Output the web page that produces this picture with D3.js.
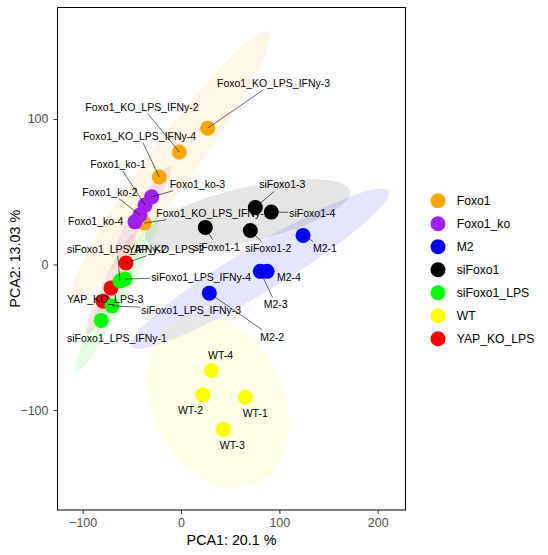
<!DOCTYPE html>
<html>
<head>
<meta charset="utf-8">
<script src="https://cdn.jsdelivr.net/npm/d3@7"></script>
<style>
  body { margin: 0; background: #fff; }
  text { font-family: "Liberation Sans", Arial, sans-serif; }
</style>
</head>
<body>
<div id="chart"></div>
<script>
// groups and their colours (legend order)
const groups = ["Foxo1", "Foxo1_ko", "M2", "siFoxo1", "siFoxo1_LPS", "WT", "YAP_KO_LPS"];
const groupColors = ["#FFA500", "#A020F0", "#0000FF", "#000000", "#00FF00", "#FFFF00", "#FF0000"];

// samples, in drawing order
const sampleNames = [
  "Foxo1_KO_LPS_IFNy-1", "Foxo1_KO_LPS_IFNy-2", "Foxo1_KO_LPS_IFNy-3", "Foxo1_KO_LPS_IFNy-4",
  "Foxo1_ko-1", "Foxo1_ko-2", "Foxo1_ko-3", "Foxo1_ko-4",
  "M2-1", "M2-2", "M2-3", "M2-4",
  "siFoxo1-1", "siFoxo1-2", "siFoxo1-3", "siFoxo1-4",
  "YAP_KO_LPS-1", "YAP_KO_LPS-2", "YAP_KO_LPS-3",
  "siFoxo1_LPS_IFNy-1", "siFoxo1_LPS_IFNy-2", "siFoxo1_LPS_IFNy-3", "siFoxo1_LPS_IFNy-4",
  "WT-1", "WT-2", "WT-3", "WT-4"
];
const sampleGroup = [
  "Foxo1", "Foxo1", "Foxo1", "Foxo1",
  "Foxo1_ko", "Foxo1_ko", "Foxo1_ko", "Foxo1_ko",
  "M2", "M2", "M2", "M2",
  "siFoxo1", "siFoxo1", "siFoxo1", "siFoxo1",
  "YAP_KO_LPS", "YAP_KO_LPS", "YAP_KO_LPS",
  "siFoxo1_LPS", "siFoxo1_LPS", "siFoxo1_LPS", "siFoxo1_LPS",
  "WT", "WT", "WT", "WT"
];
const pc1 = [-37.3, -1.7, 27.2, -22.1, -36.6, -41.7, -29.8, -46.8,
  124.1, 28.8, 80.6, 87.5, 24.7, 70.5, 75.6, 91.8,
  -71.2, -55.9, -79.3, -81.1, -62, -70.2, -57,
  65.4, 22.1, 43, 30.8];
const pc2 = [28.5, 77.3, 93.7, 60.1, 40.8, 34, 46.5, 29.3,
  20, -19.7, -4.7, -4.7, 25.5, 23.4, 39.2, 36,
  -16.2, 1, -25.2, -38.4, -11.4, -28.4, -10,
  -91.3, -89.6, -113.3, -72.8];

// repelled label anchors (left edge, middle), in PCA units; null = label dropped
const labelX = [-25.1, -97.3, 36.6, -99.7, -92.2, -100.4, -11.5, -114.9,
  134.2, 80.6, 84.1, 97.6, 12.9, 65.4, 79.6, 110.1,
  null, -53.9, -115.9, -115.9, -115.9, -40.4, -30.2,
  62.7, -3.1, 39.4, 27.5];
const labelY = [35.3, 108.2, 124.7, 88.2, 69, 49.8, 55.3, 30,
  10.8, -49.9, -27.7, -8.5, 12, 10.8, 54.8, 35.5,
  null, 10.6, -23.8, -50.6, 10.6, -31.3, -8.7,
  -102.6, -100.5, -124.6, -62.7];
// labels that sit next to their point without a leader line
const plainLabels = ["Foxo1_ko-4", "M2-4", "YAP_KO_LPS-3", "siFoxo1_LPS_IFNy-1",
  "WT-1", "WT-2", "WT-3", "WT-4"];

// 95% ellipses per group (legend order): centre and two semi-axis vectors, PCA units
const ellCx = [-10, -38.6, 80.6, 67.6, -66.1, 37.6, -71.2];
const ellCy = [68.9, 37.4, -2.7, 34.3, -21.4, -94.1, -13.5];
const ellAx = [98.8, 28.1, 130.6, 104.1, 41.7, 40.8, 24.6];
const ellAy = [91, 30.3, 53.4, 16.2, 53.3, -55.7, 34.7];
const ellBx = [18.8, 6.9, 12.1, 6.1, 9, -59.6, 7.3];
const ellBy = [-9.3, -2.9, -13.5, -18.1, -3.2, -19.9, -2.4];

const xTicks = [-100, 0, 100, 200];
const yTicks = [-100, 0, 100];

const width = 548, height = 555;
const panel = { left: 57.5, right: 405.5, top: 7.5, bottom: 510 };

const x = d3.scaleLinear().domain([-125.6, 228.3]).range([panel.left, panel.right]);
const y = d3.scaleLinear().domain([-168.7, 176.6]).range([panel.bottom, panel.top]);
const color = d3.scaleOrdinal().domain(groups).range(groupColors);

const svg = d3.select("#chart").append("svg")
  .attr("width", width)
  .attr("height", height);

svg.append("clipPath").attr("id", "panel-clip")
  .append("rect")
  .attr("x", panel.left).attr("y", panel.top)
  .attr("width", panel.right - panel.left)
  .attr("height", panel.bottom - panel.top);

const plot = svg.append("g").attr("clip-path", "url(#panel-clip)");

// ellipses
const ellLine = d3.line().x(d => x(d[0])).y(d => y(d[1])).curve(d3.curveLinearClosed);
groups.forEach((g, i) => {
  const pts = d3.range(0, 100).map(k => {
    const t = 2 * Math.PI * k / 100;
    return [ellCx[i] + ellAx[i] * Math.cos(t) + ellBx[i] * Math.sin(t),
            ellCy[i] + ellAy[i] * Math.cos(t) + ellBy[i] * Math.sin(t)];
  });
  plot.append("path")
    .attr("d", ellLine(pts))
    .attr("fill", color(g))
    .attr("fill-opacity", 0.1)
    .attr("stroke", "none");
});

const samples = sampleNames.map((name, i) => ({
  name, group: sampleGroup[i], pc1: pc1[i], pc2: pc2[i],
  lx: labelX[i], ly: labelY[i]
}));

// points
plot.selectAll(".pt")
  .data(samples)
  .enter()
  .append("circle")
  .attr("cx", d => x(d.pc1))
  .attr("cy", d => y(d.pc2))
  .attr("r", 7.5)
  .attr("fill", d => color(d.group));

// labels
const labelled = samples.filter(d => d.lx !== null);
const segs = plot.append("g");
const labels = plot.append("g")
  .selectAll("text")
  .data(labelled)
  .enter()
  .append("text")
  .attr("x", d => x(d.lx))
  .attr("y", d => y(d.ly))
  .attr("dy", "0.35em")
  .attr("font-size", "10.5px")
  .attr("fill", "#000")
  .text(d => d.name);

// leader lines: from label box edge (on the line to its centre) to the point
labels.each(function (d) {
  if (plainLabels.includes(d.name)) return;
  const b = this.getBBox();
  const pad = 1;
  const x0 = b.x - pad, x1 = b.x + b.width + pad, y0 = b.y - pad, y1 = b.y + b.height + pad;
  const cx = (x0 + x1) / 2, cy = (y0 + y1) / 2;
  const px = x(d.pc1), py = y(d.pc2);
  const dx = px - cx, dy = py - cy;
  let t = 1;
  if (dx !== 0) t = Math.min(t, ((dx > 0 ? x1 : x0) - cx) / dx);
  if (dy !== 0) t = Math.min(t, ((dy > 0 ? y1 : y0) - cy) / dy);
  segs.append("line")
    .attr("x1", cx + dx * t).attr("y1", cy + dy * t)
    .attr("x2", px).attr("y2", py)
    .attr("stroke", "#000")
    .attr("stroke-width", 0.6);
});

// panel border
svg.append("rect")
  .attr("x", panel.left).attr("y", panel.top)
  .attr("width", panel.right - panel.left)
  .attr("height", panel.bottom - panel.top)
  .attr("fill", "none")
  .attr("stroke", "#000")
  .attr("stroke-width", 1);

// axes
svg.append("g")
  .attr("transform", `translate(0,${panel.bottom})`)
  .call(d3.axisBottom(x).tickValues(xTicks).tickSizeInner(4).tickSizeOuter(0).tickPadding(4.6))
  .call(g => g.select(".domain").remove())
  .call(g => g.selectAll(".tick line").attr("stroke", "#333"))
  .call(g => g.selectAll(".tick text")
    .attr("fill", "#4D4D4D")
    .attr("font-size", "12.5px")
    .attr("font-family", "Liberation Sans, Arial, sans-serif"));

svg.append("g")
  .attr("transform", `translate(${panel.left},0)`)
  .call(d3.axisLeft(y).tickValues(yTicks).tickSizeInner(4).tickSizeOuter(0).tickPadding(5))
  .call(g => g.select(".domain").remove())
  .call(g => g.selectAll(".tick line").attr("stroke", "#333"))
  .call(g => g.selectAll(".tick text")
    .attr("fill", "#4D4D4D")
    .attr("font-size", "12.5px")
    .attr("font-family", "Liberation Sans, Arial, sans-serif"));

// axis titles
svg.append("text")
  .attr("x", (panel.left + panel.right) / 2)
  .attr("y", 545)
  .attr("text-anchor", "middle")
  .attr("font-size", "14.3px")
  .attr("fill", "#000")
  .text("PCA1: 20.1 %");

svg.append("text")
  .attr("transform", `translate(20,${(panel.top + panel.bottom) / 2}) rotate(-90)`)
  .attr("text-anchor", "middle")
  .attr("font-size", "14.3px")
  .attr("fill", "#000")
  .text("PCA2: 13.03 %");

// legend
const legend = svg.append("g").attr("transform", "translate(438,200.7)");
groups.forEach((g, i) => {
  const row = legend.append("g").attr("transform", `translate(0,${i * 23})`);
  row.append("circle").attr("r", 7.5).attr("fill", color(g));
  row.append("text")
    .attr("x", 18.7)
    .attr("dy", "0.35em")
    .attr("font-size", "12.2px")
    .attr("fill", "#000")
    .text(g);
});
</script>
</body>
</html>
